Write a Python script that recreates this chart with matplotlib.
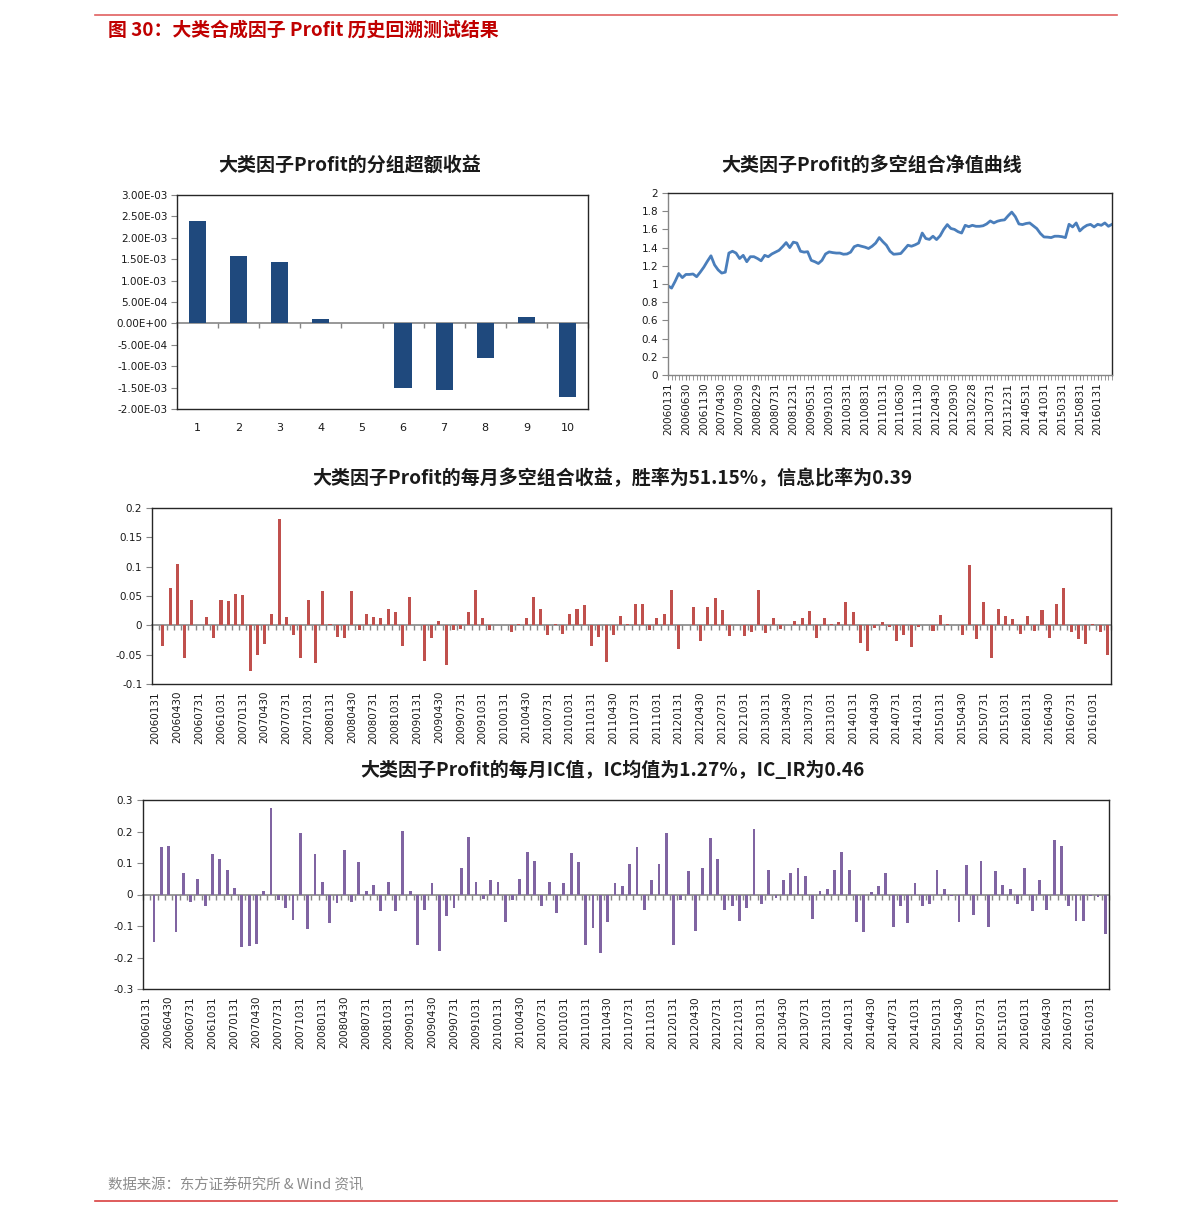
import numpy as np
import pandas as pd
import matplotlib
matplotlib.use('Agg')
import matplotlib.pyplot as plt
from matplotlib.lines import Line2D

plt.rcParams['font.family'] = ['Noto Sans CJK SC', 'DejaVu Sans']

# ---------------- data ----------------
groups = ['1', '2', '3', '4', '5', '6', '7', '8', '9', '10']
group_excess = [2.40e-3, 1.57e-3, 1.43e-3, 0.11e-3, 0.0,
                -1.52e-3, -1.56e-3, -0.82e-3, 0.155e-3, -1.73e-3]

months = pd.date_range('2006-01-31', periods=132, freq='ME').strftime('%Y%m%d').tolist()

monthly_ls_return = [
    0.0, -0.035, 0.063, 0.105, -0.055, 0.043, 0.0, 0.015, -0.022, 0.043, 0.041, 0.053,
    0.051, -0.078, -0.050, -0.032, 0.020, 0.181, 0.015, -0.017, -0.055, 0.043, -0.065, 0.058,
    0.003, -0.020, -0.022, 0.058, -0.008, 0.020, 0.015, 0.013, 0.028, 0.023, -0.035, 0.048,
    0.0, -0.060, -0.022, 0.008, -0.068, -0.008, -0.006, 0.023, 0.061, 0.013, -0.008, 0.0,
    0.0, -0.012, 0.003, 0.013, 0.048, 0.028, -0.017, 0.003, -0.015, 0.020, 0.028, 0.035,
    -0.035, -0.020, -0.063, -0.017, 0.016, 0.003, 0.036, 0.036, -0.008, 0.013, 0.019, 0.061,
    -0.040, 0.0, 0.031, -0.027, 0.031, 0.047, 0.026, -0.019, 0.0, -0.019, -0.011, 0.061,
    -0.013, 0.013, -0.006, 0.0, 0.008, 0.013, 0.024, -0.022, 0.013, 0.003, 0.005, 0.039,
    0.023, -0.030, -0.043, -0.005, 0.005, -0.003, -0.027, -0.017, -0.037, -0.003, 0.0, -0.009,
    0.018, 0.003, 0.0, -0.017, 0.102, -0.024, 0.039, -0.055, 0.028, 0.016, 0.010, -0.014,
    0.016, -0.009, 0.026, -0.022, 0.036, 0.064, -0.011, -0.024, -0.032, 0.003, -0.011, -0.050,
]

monthly_ic = [
    0.0, -0.15, 0.15, 0.155, -0.12, 0.069, -0.024, 0.05, -0.035, 0.127, 0.113, 0.079,
    0.02, -0.168, -0.162, -0.158, 0.012, 0.274, -0.018, -0.044, -0.081, 0.194, -0.11, 0.127,
    0.041, -0.091, -0.028, 0.14, -0.024, 0.103, 0.01, 0.03, -0.053, 0.04, -0.053, 0.202,
    0.012, -0.16, -0.048, 0.036, -0.178, -0.067, -0.044, 0.084, 0.183, 0.04, -0.014, 0.046,
    0.041, -0.086, -0.019, 0.05, 0.136, 0.107, -0.035, 0.04, -0.058, 0.036, 0.132, 0.103,
    -0.16, -0.106, -0.187, -0.086, 0.036, 0.027, 0.098, 0.151, -0.048, 0.047, 0.098, 0.194,
    -0.16, -0.016, 0.074, -0.117, 0.084, 0.18, 0.113, -0.049, -0.038, -0.083, -0.044, 0.207,
    -0.03, 0.079, -0.011, 0.045, 0.068, 0.083, 0.06, -0.078, 0.011, 0.016, 0.079, 0.136,
    0.079, -0.086, -0.12, 0.007, 0.026, 0.069, -0.102, -0.038, -0.091, 0.036, -0.035, -0.03,
    0.079, 0.016, -0.005, -0.088, 0.094, -0.064, 0.107, -0.102, 0.074, 0.03, 0.016, -0.03,
    0.084, -0.053, 0.046, -0.048, 0.174, 0.155, -0.035, -0.083, -0.083, -0.005, -0.009, -0.125,
]

# net value curve of the long-short portfolio (2006-01 .. 2016-05)
nav = [
    0.98, 0.955, 1.03, 1.115, 1.07, 1.105, 1.105, 1.11, 1.08, 1.13, 1.185, 1.25,
    1.31, 1.21, 1.155, 1.12, 1.13, 1.34, 1.36, 1.34, 1.28, 1.315, 1.245, 1.30,
    1.30, 1.28, 1.255, 1.315, 1.30, 1.33, 1.35, 1.37, 1.41, 1.455, 1.40, 1.46,
    1.45, 1.36, 1.35, 1.355, 1.26, 1.245, 1.225, 1.26, 1.33, 1.353, 1.345, 1.34,
    1.34, 1.327, 1.33, 1.35, 1.41, 1.426, 1.415, 1.405, 1.39, 1.415, 1.45, 1.51,
    1.465, 1.426, 1.36, 1.327, 1.33, 1.335, 1.38, 1.426, 1.415, 1.43, 1.45, 1.56,
    1.50, 1.49, 1.525, 1.488, 1.53, 1.60, 1.653, 1.61, 1.60, 1.575, 1.56, 1.645,
    1.63, 1.645, 1.634, 1.634, 1.64, 1.66, 1.693, 1.671, 1.69, 1.70, 1.705, 1.75,
    1.79, 1.74, 1.66, 1.653, 1.665, 1.671, 1.64, 1.609, 1.555, 1.517, 1.515, 1.51,
    1.525, 1.525, 1.52, 1.51, 1.656, 1.627, 1.671, 1.583, 1.62, 1.645, 1.655, 1.627,
    1.656, 1.645, 1.671, 1.634, 1.656,
]
nav_months = months[:len(nav)]

header_title = '图 30：大类合成因子 Profit 历史回溯测试结果'
title1 = '大类因子Profit的分组超额收益'
title2 = '大类因子Profit的多空组合净值曲线'
title3 = '大类因子Profit的每月多空组合收益，胜率为51.15%，信息比率为0.39'
title4 = '大类因子Profit的每月IC值，IC均值为1.27%，IC_IR为0.46'
source = '数据来源：东方证券研究所 & Wind 资讯'

# ---------------- layout ----------------
W, H = 1191, 1215
fig = plt.figure(figsize=(W / 100, H / 100), dpi=100)


def add_ax(l, t, r, b):
    return fig.add_axes([l / W, 1 - b / H, (r - l) / W, (b - t) / H])


SPINE = '#262626'
AXGRAY = '#868686'
TXT = '#1a1a1a'
TICKFONT = 'DejaVu Sans'


def style(ax):
    for s in ax.spines.values():
        s.set_color(SPINE)
        s.set_linewidth(1.0)
    ax.tick_params(axis='y', direction='out', length=4, color=AXGRAY,
                   labelsize=7.5, labelcolor=TXT, pad=3)
    ax.set_facecolor('white')


def tickfont(ax):
    for lbl in ax.get_xticklabels() + ax.get_yticklabels():
        lbl.set_fontfamily(TICKFONT)


def zero_axis(ax, ymin, ymax, n):
    frac = (0 - ymin) / (ymax - ymin)
    sec = ax.secondary_xaxis(frac)
    sec.set_alignment('bottom')
    sec.set_xticks(np.arange(n + 1) - 0.5)
    sec.set_xticklabels([''] * (n + 1))
    sec.tick_params(axis='x', direction='out', length=3.5, color=AXGRAY, width=1)
    for s in sec.spines.values():
        s.set_color(AXGRAY)
        s.set_linewidth(1.2)
    return sec


# ---- chart 1: group excess returns ----
ax1 = add_ax(177, 195, 588, 409)
x1 = np.arange(len(groups))
ax1.bar(x1, group_excess, width=0.42, color='#1F497D', zorder=2)
ax1.set_xlim(-0.5, len(groups) - 0.5)
ax1.set_ylim(-2e-3, 3e-3)
yt1 = np.arange(-4, 7) * 5e-4
ax1.set_yticks(yt1, [f'{v:.2E}' for v in yt1])
ax1.set_xticks(x1, groups)
style(ax1)
ax1.tick_params(axis='x', length=0, pad=10, labelsize=8, labelcolor=TXT)
tickfont(ax1)
zero_axis(ax1, -2e-3, 3e-3, len(groups))

# ---- chart 2: net value curve ----
ax2 = add_ax(668, 193, 1112, 375)
x2 = np.arange(len(nav))
ax2.plot(x2, nav, color='#4A7EBB', lw=2.0, solid_joinstyle='round')
ax2.set_xlim(0, len(nav) - 1)
ax2.set_ylim(0, 2)
yt2 = np.round(np.arange(0, 11) * 0.2, 1)
ax2.set_yticks(yt2, [f'{v:g}' for v in yt2])
ax2.set_xticks(x2[::5], nav_months[::5], rotation=90)
ax2.set_xticks(x2, minor=True)
style(ax2)
ax2.spines['bottom'].set_color(AXGRAY)
ax2.spines['left'].set_color(AXGRAY)
ax2.tick_params(axis='x', which='both', direction='out', length=3.5, color=AXGRAY,
                labelsize=7.5, labelcolor=TXT, pad=2)
tickfont(ax2)

# ---- chart 3: monthly long-short returns ----
ax3 = add_ax(152, 508, 1111, 684)
x3 = np.arange(len(months))
ax3.bar(x3, monthly_ls_return, width=0.42, color='#C0504D', zorder=2)
ax3.set_xlim(-0.5, len(months) - 0.5)
ax3.set_ylim(-0.1, 0.2)
yt3 = np.round(np.arange(-2, 5) * 0.05, 2)
ax3.set_yticks(yt3, [f'{v:g}' for v in yt3])
ax3.set_xticks(x3[::3], months[::3], rotation=90)
style(ax3)
ax3.tick_params(axis='x', length=0, pad=5, labelsize=7.5, labelcolor=TXT)
tickfont(ax3)
zero_axis(ax3, -0.1, 0.2, len(months))

# ---- chart 4: monthly IC ----
ax4 = add_ax(143, 800, 1109, 989)
x4 = np.arange(len(months))
ax4.bar(x4, monthly_ic, width=0.38, color='#8064A2', zorder=2)
ax4.set_xlim(-0.5, len(months) - 0.5)
ax4.set_ylim(-0.3, 0.3)
yt4 = np.round(np.arange(-3, 4) * 0.1, 1)
ax4.set_yticks(yt4, [f'{v:g}' for v in yt4])
ax4.set_xticks(x4[::3], months[::3], rotation=90)
style(ax4)
ax4.tick_params(axis='x', length=0, pad=5, labelsize=7.5, labelcolor=TXT)
tickfont(ax4)
zero_axis(ax4, -0.3, 0.3, len(months))

# ---- texts ----
fig.text(108 / W, 1 - 30 / H, header_title, color='#C00000', fontsize=13.6,
         fontweight='bold', ha='left', va='center')
for t, cx, cy in [(title1, 350, 165), (title2, 872, 165), (title3, 612, 478), (title4, 612, 770)]:
    fig.text(cx / W, 1 - cy / H, t, ha='center', va='center', fontsize=13.7,
             fontweight='bold', color=TXT)
fig.text(108 / W, 1 - 1185 / H, source, color='#8C8C8C', fontsize=10.4,
         ha='left', va='center')

# ---- red rules ----
fig.add_artist(Line2D([95 / W, 1117 / W], [1 - 15 / H, 1 - 15 / H], color='#E06060', lw=1.2))
fig.add_artist(Line2D([95 / W, 1117 / W], [1 - 1201 / H, 1 - 1201 / H], color='#D9403F', lw=1.2))

fig.savefig('out.png', dpi=100, facecolor='white')
